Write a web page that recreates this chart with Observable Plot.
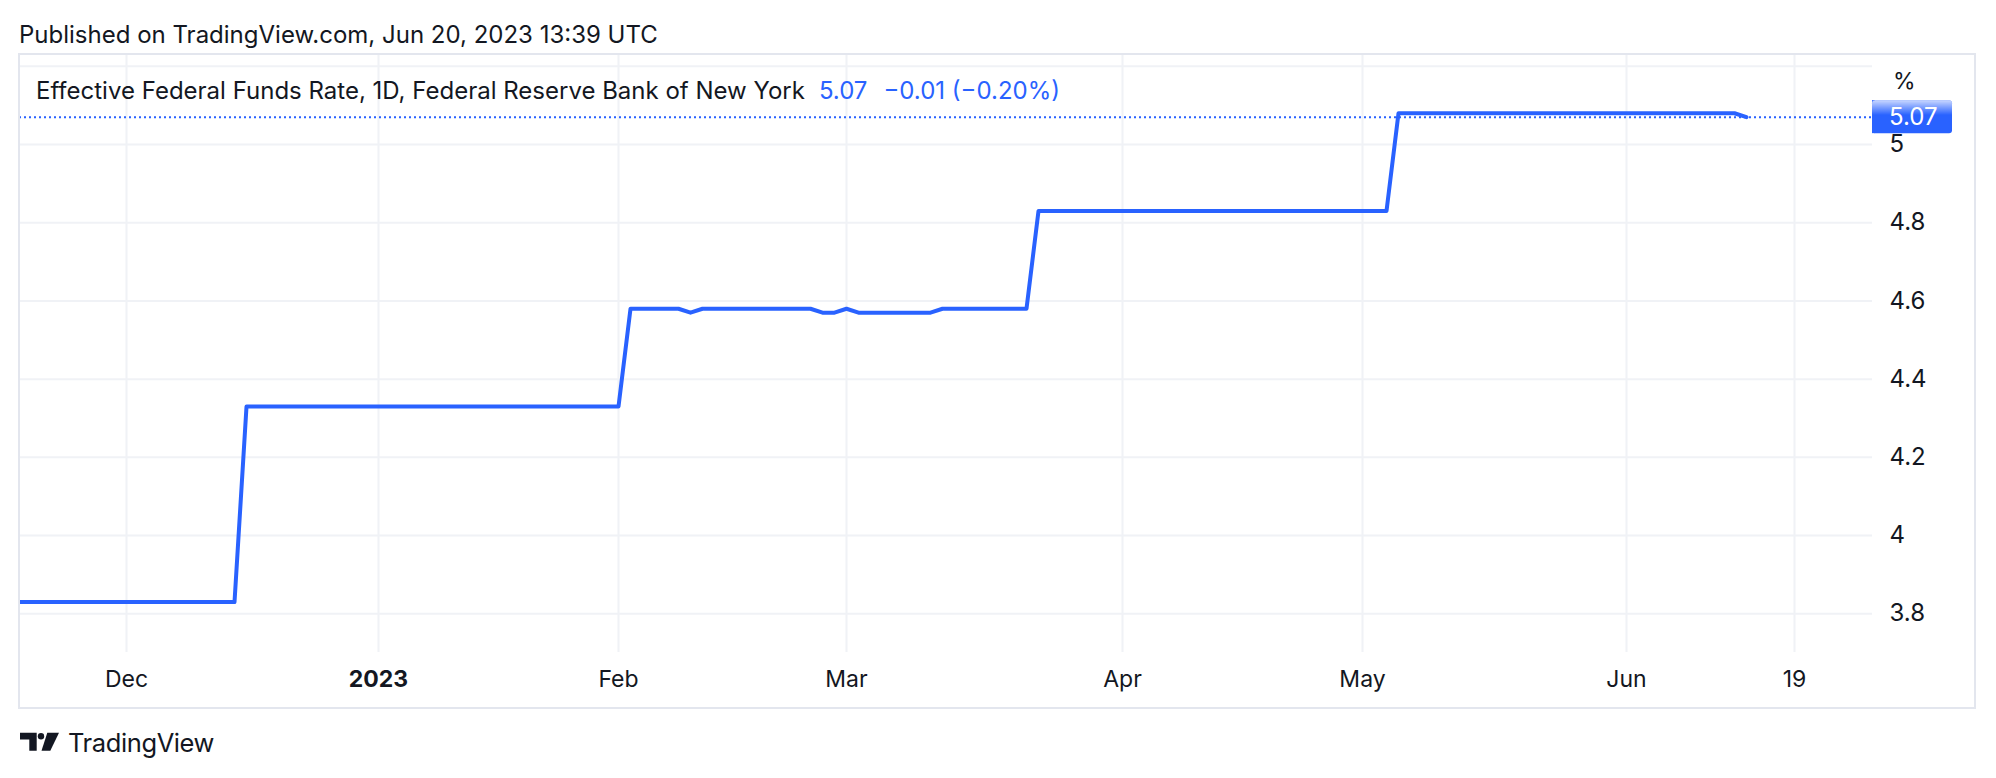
<!DOCTYPE html>
<html>
<head>
<meta charset="utf-8">
<script src="https://cdn.jsdelivr.net/npm/d3@7"></script>
<script src="https://cdn.jsdelivr.net/npm/@observablehq/plot@0.6"></script>
<style>
  html, body { margin: 0; padding: 0; background: #ffffff; }
  body { width: 1996px; height: 778px; position: relative; overflow: hidden;
         font-family: Inter, "Noto Sans", "DejaVu Sans", sans-serif; color: #131722; }
  #pub { position: absolute; left: 19px; top: 23px; font-size: 24px; line-height: 24px; white-space: nowrap; }
  #chart { position: absolute; left: 19px; top: 54px; width: 1956px; height: 654px; }
  #frame { position: absolute; left: 18px; top: 53px; width: 1958px; height: 656px;
           box-sizing: border-box; border: 2px solid #e3e6ee; pointer-events: none; }
  #footer { position: absolute; left: 0; top: 720px; }
</style>
</head>
<body>
<div id="pub">Published on TradingView.com, Jun 20, 2023 13:39 UTC</div>
<div id="chart"></div>
<div id="frame"></div>
<svg id="footer" width="300" height="58" viewBox="0 720 300 58">
  <path d="M20 732.7 H36.7 V750.7 H29.3 V739.5 H20 Z" fill="#131722"/>
  <circle cx="41" cy="736.3" r="3.2" fill="#131722"/>
  <path d="M47.3 732.7 H59 L50.3 750.7 H41.5 Z" fill="#131722"/>
  <text x="68" y="751.7" font-size="25.5" fill="#131722" style="font-family: Inter, 'Noto Sans', sans-serif; letter-spacing:-0.4px">TradingView</text>
</svg>
<script>
// ---------------- data ----------------
const seriesTitle = "Effective Federal Funds Rate, 1D, Federal Reserve Bank of New York";
const lastValueText = "5.07";
const changeText = "\u22120.01 (\u22120.20%)";
const lastValue = 5.07;

// vertices of the daily series (business days)
const dates = [
  "2022-11-14","2022-12-14","2022-12-15","2023-02-01","2023-02-02","2023-02-08",
  "2023-02-09","2023-02-10","2023-02-24","2023-02-27","2023-02-28","2023-03-01",
  "2023-03-02","2023-03-10","2023-03-13","2023-03-22","2023-03-23","2023-05-03",
  "2023-05-04","2023-06-14","2023-06-15"
];
const rates = [
  3.83, 3.83, 4.33, 4.33, 4.58, 4.58,
  4.57, 4.58, 4.58, 4.57, 4.57, 4.58,
  4.57, 4.57, 4.58, 4.58, 4.83, 4.83,
  5.08, 5.08, 5.07
];
// market holidays (no bar)
const holidays = ["2022-11-11","2022-11-24","2022-12-26","2023-01-02","2023-01-16","2023-02-20","2023-05-29","2023-06-19"];

const tickDates  = ["2022-12-01","2023-01-03","2023-02-01","2023-03-01","2023-04-03","2023-05-01","2023-06-01","2023-06-19"];
const tickLabels = ["Dec","2023","Feb","Mar","Apr","May","Jun","19"];
const tickBold   = [false, true, false, false, false, false, false, false];

const yGrid = [3.8, 4, 4.2, 4.4, 4.6, 4.8, 5, 5.2];
const yTicks = [3.8, 4, 4.2, 4.4, 4.6, 4.8, 5];
const yTickLabels = ["3.8","4","4.2","4.4","4.6","4.8","5"];

// ---------------- bar-index time axis (TradingView style) ----------------
const holidaySet = new Set(holidays);
const DAY = 864e5;
const parse = s => new Date(s + "T00:00:00Z");
const iso = d => d.toISOString().slice(0, 10);
const isBar = d => { const w = d.getUTCDay(); return w !== 0 && w !== 6 && !holidaySet.has(iso(d)); };
const originDate = parse(tickDates[0]);
const lastDate = parse(dates[dates.length - 1]);
function barIndex(s) {
  const t = parse(s);
  const end = t > lastDate ? lastDate : t;
  let n = 0;
  if (end >= originDate) {
    for (let d = new Date(originDate); d < end; d = new Date(+d + DAY)) if (isBar(d)) n++;
  } else {
    for (let d = new Date(end); d < originDate; d = new Date(+d + DAY)) if (isBar(d)) n--;
  }
  if (t > lastDate) n += Math.round((t - lastDate) / DAY);
  return n;
}

const series = dates.map((d, k) => ({i: barIndex(d), v: rates[k]}));
const ticks = tickDates.map((d, k) => ({i: barIndex(d), label: tickLabels[k], bold: tickBold[k]}));
const yLabelData = yTicks.map((v, k) => ({v, label: yTickLabels[k]}));

const W = 1956, H = 654, MR = 103, MB = 56;
const BLUE = "#2962FF";
const TEXT = "#131722";
const GRID = "#f0f2f6";
const FONT = "Inter, 'Noto Sans', sans-serif";

// overlay: legend, % unit and last-price label, positioned through the scales
function overlay(index, scales, values, dim) {
  const g = d3.create("svg:g").attr("font-family", FONT).attr("text-anchor", "start");
  const t = g.append("text").attr("x", 17).attr("y", 45).attr("font-size", 24).attr("fill", TEXT);
  t.append("tspan").text(seriesTitle);
  t.append("tspan").attr("dx", 14).attr("fill", BLUE).text(lastValueText);
  t.append("tspan").attr("dx", 16).attr("fill", BLUE).text(changeText);

  const xr = dim.width - dim.marginRight;
  g.append("text").attr("x", xr + 21).attr("y", 27).attr("dy", "0.36em")
    .attr("font-size", 23).attr("fill", TEXT).text("%");

  const yv = scales.y(lastValue);
  const defs = g.append("defs");
  const grad = defs.append("linearGradient").attr("id", "gloss").attr("x1", 0).attr("x2", 0).attr("y1", 0).attr("y2", 1);
  grad.append("stop").attr("offset", 0).attr("stop-color", "#ffffff").attr("stop-opacity", 0.75);
  grad.append("stop").attr("offset", 0.45).attr("stop-color", "#ffffff").attr("stop-opacity", 0);
  g.append("rect").attr("x", xr).attr("y", yv - 16.5).attr("width", 80).attr("height", 33)
    .attr("rx", 3).attr("fill", BLUE);
  g.append("rect").attr("x", xr).attr("y", yv - 16.5).attr("width", 3).attr("height", 33).attr("fill", BLUE);
  g.append("rect").attr("x", xr).attr("y", yv - 16.5).attr("width", 80).attr("height", 33)
    .attr("rx", 3).attr("fill", "url(#gloss)");
  g.append("text").attr("x", xr + 17).attr("y", yv).attr("dy", "0.36em")
    .attr("font-size", 24).attr("fill", "#ffffff").text(lastValueText);
  return g.node();
}

const chart = Plot.plot({
  width: W, height: H,
  marginLeft: 0, marginRight: MR, marginTop: 0, marginBottom: MB,
  x: {type: "linear", domain: [-107 / 12, 1746 / 12], axis: null},
  y: {domain: [3.701, 5.2302], axis: null},
  style: {fontFamily: FONT, background: "transparent", overflow: "visible", color: TEXT},
  marks: [
    Plot.ruleX(ticks, {x: "i", stroke: GRID, strokeWidth: 2}),
    Plot.ruleY(yGrid, {stroke: GRID, strokeWidth: 2}),
    Plot.ruleY([lastValue], {stroke: BLUE, strokeWidth: 2, strokeDasharray: "2,3"}),
    Plot.line(series, {x: "i", y: "v", stroke: BLUE, strokeWidth: 4, strokeLinejoin: "round", clip: true}),
    Plot.text(ticks.filter(d => !d.bold), {x: "i", text: "label", frameAnchor: "bottom", dy: 34,
      fontSize: 23, fill: TEXT}),
    Plot.text(ticks.filter(d => d.bold), {x: "i", text: "label", frameAnchor: "bottom", dy: 34,
      fontSize: 23, fontWeight: 700, fill: TEXT}),
    Plot.text(yLabelData, {y: "v", text: "label", frameAnchor: "right", dx: 17, textAnchor: "start",
      fontSize: 24, fill: TEXT}),
    overlay
  ]
});
document.getElementById("chart").appendChild(chart);
</script>
</body>
</html>
